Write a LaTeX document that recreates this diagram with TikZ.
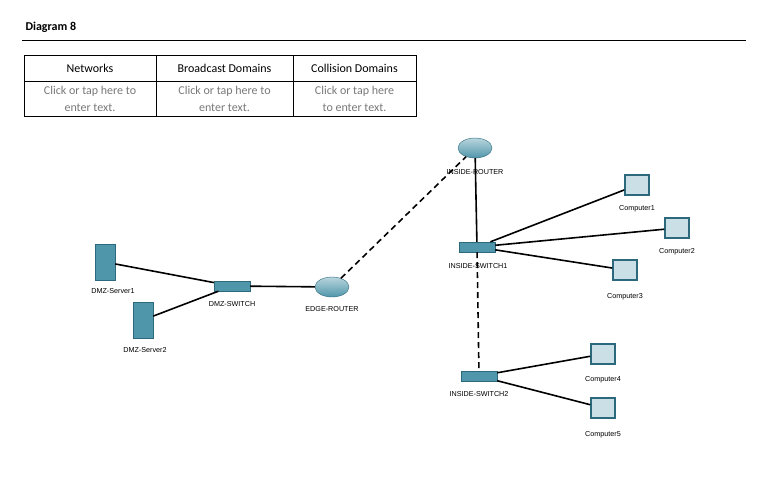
\documentclass[tikz,border=0pt]{standalone}
\usepackage{fontspec}
\setmainfont{Carlito}
\newfontfamily\lab{Liberation Sans}
\usetikzlibrary{shapes.geometric}
\definecolor{dev}{RGB}{80,150,170}
\definecolor{devdark}{RGB}{45,105,125}
\definecolor{hint}{RGB}{120,120,120}
\tikzset{
  router/.style={ellipse,minimum width=34pt,minimum height=20pt,draw=devdark,top color=dev!40,bottom color=dev,inner sep=0pt},
  switch/.style={rectangle,minimum width=36pt,minimum height=10pt,draw=devdark,fill=dev,inner sep=0pt},
  pc/.style={rectangle,minimum width=24pt,minimum height=20pt,draw=devdark,line width=1.5pt,fill=dev!30,inner sep=0pt},
  server/.style={rectangle,minimum width=20pt,minimum height=36pt,draw=devdark,fill=dev,inner sep=0pt},
  devlabel/.style={font=\lab\fontsize{7.2}{8}\selectfont,inner sep=0pt},
  link/.style={line width=1.6pt},
  wan/.style={line width=1.6pt,dash pattern=on 6pt off 4pt},
  cell/.style={font=\fontsize{12}{14}\selectfont,align=center},
  hintcell/.style={font=\fontsize{12}{17}\selectfont,align=center,text=hint}
}
\begin{document}
\begin{tikzpicture}[x=1pt,y=-1pt]
  \useasboundingbox (0,0) rectangle (762,483);
  % heading
  \node[anchor=west,font=\bfseries\fontsize{12}{14}\selectfont] (title) at (22,27) {Diagram 8};
  \draw (22,40) -- (746,40);
  % table
  \draw (24,55) rectangle (416,116);
  \draw (24,81) -- (416,81);
  \draw (156,55) -- (156,116);
  \draw (293,55) -- (293,116);
  \node[cell] (hnet) at (90,68) {Networks};
  \node[cell] (hbc) at (224.5,68) {Broadcast Domains};
  \node[cell] (hcol) at (354.5,68) {Collision Domains};
  \node[hintcell] (tnet) at (90,99) {Click or tap here to\\enter text.};
  \node[hintcell] (tbc) at (224.5,99) {Click or tap here to\\enter text.};
  \node[hintcell] (tcol) at (354.5,99) {Click or tap here\\to enter text.};

  % devices
  \node[server] (srv1) at (105,262) {};
  \node[server] (srv2) at (143,320) {};
  \node[switch] (dmzsw) at (232,286) {};
  \node[router] (edge) at (332,287) {};
  \node[router] (inrt) at (475,148) {};
  \node[switch] (sw1) at (477,247) {};
  \node[switch] (sw2) at (479,376) {};
  \node[pc] (pc1) at (637,185) {};
  \node[pc] (pc2) at (677,228) {};
  \node[pc] (pc3) at (625,270) {};
  \node[pc] (pc4) at (603,354) {};
  \node[pc] (pc5) at (603,408) {};

  % links
  \draw[link] (srv1) -- (dmzsw);
  \draw[link] (srv2) -- (dmzsw);
  \draw[link] (dmzsw) -- (edge);
  \draw[wan] (edge) -- (inrt);
  \draw[link] (inrt) -- (sw1);
  \draw[link] (sw1) -- (pc1);
  \draw[link] (sw1) -- (pc2);
  \draw[link] (sw1) -- (pc3);
  \draw[wan] (sw1) -- (sw2);
  \draw[link] (sw2) -- (pc4);
  \draw[link] (sw2) -- (pc5);

  % labels
  \node[devlabel] (lsrv1) at (113,291) {DMZ-Server1};
  \node[devlabel] (lsrv2) at (145,350) {DMZ-Server2};
  \node[devlabel] (ldmz) at (232,304) {DMZ-SWITCH};
  \node[devlabel] (ledge) at (332,309) {EDGE-ROUTER};
  \node[devlabel] (linrt) at (475,172) {INSIDE-ROUTER};
  \node[devlabel] (lsw1) at (478,266) {INSIDE-SWITCH1};
  \node[devlabel] (lsw2) at (479,394) {INSIDE-SWITCH2};
  \node[devlabel] (lpc1) at (637,209) {Computer1};
  \node[devlabel] (lpc2) at (677,252) {Computer2};
  \node[devlabel] (lpc3) at (625,297) {Computer3};
  \node[devlabel] (lpc4) at (603,380) {Computer4};
  \node[devlabel] (lpc5) at (603,435) {Computer5};
\end{tikzpicture}
\end{document}
